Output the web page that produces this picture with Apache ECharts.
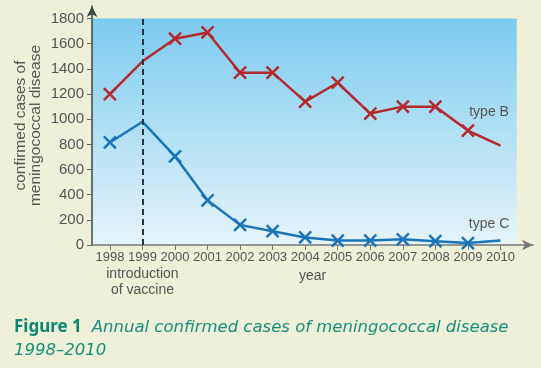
<!DOCTYPE html>
<html><head><meta charset="utf-8">
<script src="https://cdn.jsdelivr.net/npm/echarts@6/dist/echarts.min.js"></script>
<style>html,body{margin:0;padding:0;background:#eef0d8;}#c{width:541px;height:368px;}</style>
</head><body><div id="c"></div>
<script>
var years = [1998,1999,2000,2001,2002,2003,2004,2005,2006,2007,2008,2009,2010];
var typeB = [1200,1460,1640,1690,1370,1370,1140,1290,1045,1100,1100,910,790];
var typeC = [815,980,705,355,160,110,60,35,35,45,30,15,35];
var unmarkedYears = [1999, 2010];
var yTicks = [0,200,400,600,800,1000,1200,1400,1600,1800];
var vaccineYear = 1999;

var cross = 'path://M0,0L10,10M0,10L10,0';
function build(vals, color) {
  return vals.map(function (v, i) {
    var marked = unmarkedYears.indexOf(years[i]) < 0;
    return {
      value: [years[i], v],
      symbol: marked ? cross : 'none',
      symbolSize: 12,
      itemStyle: {color: 'rgba(0,0,0,0)', borderColor: color, borderWidth: 2.5}
    };
  });
}
var red = '#b3292d', blue = '#1a74ba';
var chart = echarts.init(document.getElementById('c'));
chart.setOption({
  backgroundColor: '#eef0d8',
  animation: false,
  textStyle: {fontFamily: 'Liberation Sans'},
  title: {
    left: 9, top: 311,
    text: '{b|Figure 1}  {i|Annual confirmed cases of meningococcal disease}\n{i|1998\u20132010}',
    textStyle: {
      fontWeight: 'normal',
      rich: {
        b: {fontFamily: 'Noto Sans', fontWeight: 'bold', fontSize: 17, color: '#0d8573', lineHeight: 23},
        i: {fontFamily: 'DejaVu Sans', fontStyle: 'italic', fontWeight: 'normal', fontSize: 16.5, color: '#16907c', lineHeight: 23}
      }
    }
  },
  grid: {left: 92, right: 8, top: 6, bottom: 123},
  xAxis: {
    type: 'value', min: 1997.45, max: 2011, z: 3,
    name: 'year', nameLocation: 'middle', nameGap: 24, nameMoveOverlap: false,
    nameTextStyle: {fontSize: 14, color: '#555'},
    splitLine: {show: false},
    axisLine: {lineStyle: {color: '#777', width: 1.5}, symbol: ['none','arrow'], symbolSize: [8, 11]},
    axisTick: {customValues: years, length: 5, lineStyle: {color: '#777'}},
    axisLabel: {
      customValues: years, fontSize: 13, color: '#555', margin: 6,
      hideOverlap: false, showMinLabel: true, showMaxLabel: true,
      formatter: function (v) { return String(v); }
    }
  },
  yAxis: {
    type: 'value', min: 0, max: 1900, z: 3,
    name: 'confirmed cases of\nmeningococcal disease', nameLocation: 'middle', nameGap: 49, nameMoveOverlap: false,
    nameTextStyle: {fontSize: 15.5, color: '#555', lineHeight: 15},
    splitLine: {show: false},
    axisLine: {lineStyle: {color: '#3a4a44', width: 1.5}, symbol: ['none','arrow'], symbolSize: [8, 11]},
    axisTick: {customValues: yTicks, length: 5, lineStyle: {color: '#666'}},
    axisLabel: {customValues: yTicks, fontSize: 15, color: '#555', margin: 8, hideOverlap: false,
      formatter: function (v) { return String(v); }}
  },
  series: [
    {
      type: 'line', data: build(typeB, red), z: 4,
      lineStyle: {color: red, width: 2.5}, emphasis: {disabled: true},
      markArea: {
        silent: true,
        itemStyle: {color: new echarts.graphic.LinearGradient(0,0,0,1,[{offset:0,color:'#7ccbef'},{offset:1,color:'#e6f4fa'}])},
        data: [[{coord: [1997.45, 1800]}, {coord: [2010.5, 0]}]]
      },
      markLine: {
        silent: true, symbol: ['none','none'],
        label: {show: true, position: 'start', distance: 21, formatter: 'introduction\nof vaccine',
          fontSize: 14, lineHeight: 16, color: '#555', fontFamily: 'Liberation Sans'},
        lineStyle: {color: '#2a3340', type: [6, 4], width: 2},
        data: [[{coord: [vaccineYear, 0]}, {coord: [vaccineYear, 1800]}]]
      },
      markPoint: {
        silent: true, symbol: 'rect', symbolSize: 1, itemStyle: {color: 'rgba(0,0,0,0)'},
        label: {show: true, position: 'inside', formatter: 'type B', fontSize: 14, color: '#555'},
        data: [{coord: [2009.65, 1055]}]
      }
    },
    {
      type: 'line', data: build(typeC, blue), z: 4,
      lineStyle: {color: blue, width: 2.5}, emphasis: {disabled: true},
      markPoint: {
        silent: true, symbol: 'rect', symbolSize: 1, itemStyle: {color: 'rgba(0,0,0,0)'},
        label: {show: true, position: 'inside', formatter: 'type C', fontSize: 14, color: '#555'},
        data: [{coord: [2009.65, 167]}]
      }
    }
  ]
});
</script></body></html>
